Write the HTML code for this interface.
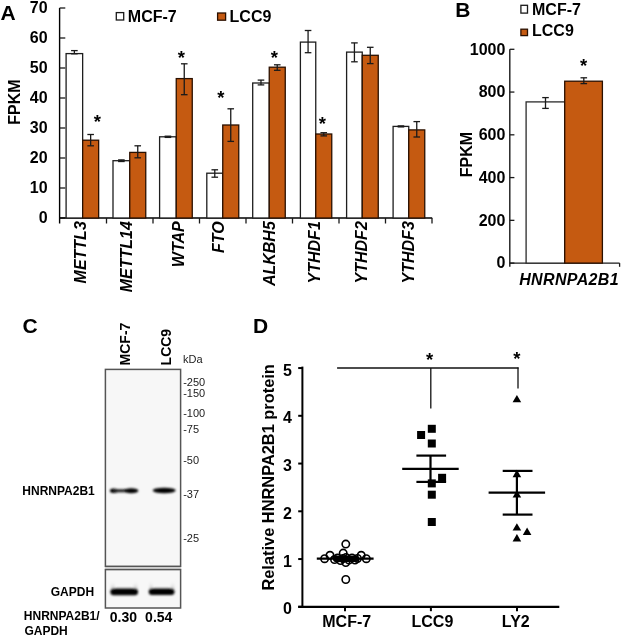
<!DOCTYPE html>
<html><head><meta charset="utf-8"><title>Figure</title>
<style>
html,body{margin:0;padding:0;background:#fff;}
svg{display:block;font-family:'Liberation Sans', Arial, sans-serif;}
</style></head>
<body>
<svg width="622" height="637" viewBox="0 0 622 637">
<defs>
<filter id="blur1" x="-20%" y="-50%" width="140%" height="200%"><feGaussianBlur stdDeviation="0.8"/></filter>
<filter id="blur2" x="-20%" y="-50%" width="140%" height="200%"><feGaussianBlur stdDeviation="1.0"/></filter>
<linearGradient id="smear" x1="0" y1="0" x2="0" y2="1"><stop offset="0" stop-color="#fff" stop-opacity="0"/><stop offset="1" stop-color="#777" stop-opacity="0.6"/></linearGradient>
</defs>
<rect x="0" y="0" width="622" height="637" fill="#fff"/>
<text x="0.6" y="20.3" font-size="21" font-weight="bold" text-anchor="start" fill="#000">A</text>
<line x1="59.6" y1="8" x2="59.6" y2="223.5" stroke="#000" stroke-width="1.4"/>
<line x1="59.6" y1="218.0" x2="65.3" y2="218.0" stroke="#1a1a1a" stroke-width="1.3"/>
<text x="47.6" y="223.4" font-size="16" font-weight="bold" text-anchor="end" fill="#000">0</text>
<line x1="59.6" y1="188.0" x2="65.3" y2="188.0" stroke="#1a1a1a" stroke-width="1.3"/>
<text x="47.6" y="193.4" font-size="16" font-weight="bold" text-anchor="end" fill="#000">10</text>
<line x1="59.6" y1="158.0" x2="65.3" y2="158.0" stroke="#1a1a1a" stroke-width="1.3"/>
<text x="47.6" y="163.4" font-size="16" font-weight="bold" text-anchor="end" fill="#000">20</text>
<line x1="59.6" y1="128.0" x2="65.3" y2="128.0" stroke="#1a1a1a" stroke-width="1.3"/>
<text x="47.6" y="133.4" font-size="16" font-weight="bold" text-anchor="end" fill="#000">30</text>
<line x1="59.6" y1="98.0" x2="65.3" y2="98.0" stroke="#1a1a1a" stroke-width="1.3"/>
<text x="47.6" y="103.4" font-size="16" font-weight="bold" text-anchor="end" fill="#000">40</text>
<line x1="59.6" y1="68.0" x2="65.3" y2="68.0" stroke="#1a1a1a" stroke-width="1.3"/>
<text x="47.6" y="73.4" font-size="16" font-weight="bold" text-anchor="end" fill="#000">50</text>
<line x1="59.6" y1="38.0" x2="65.3" y2="38.0" stroke="#1a1a1a" stroke-width="1.3"/>
<text x="47.6" y="43.4" font-size="16" font-weight="bold" text-anchor="end" fill="#000">60</text>
<line x1="59.6" y1="8.0" x2="65.3" y2="8.0" stroke="#1a1a1a" stroke-width="1.3"/>
<text x="47.6" y="13.4" font-size="16" font-weight="bold" text-anchor="end" fill="#000">70</text>
<line x1="59.6" y1="218.0" x2="432.2" y2="218.0" stroke="#000" stroke-width="1.4"/>
<line x1="106.5" y1="218.0" x2="106.5" y2="223.5" stroke="#1a1a1a" stroke-width="1.3"/>
<line x1="153.0" y1="218.0" x2="153.0" y2="223.5" stroke="#1a1a1a" stroke-width="1.3"/>
<line x1="199.5" y1="218.0" x2="199.5" y2="223.5" stroke="#1a1a1a" stroke-width="1.3"/>
<line x1="246.0" y1="218.0" x2="246.0" y2="223.5" stroke="#1a1a1a" stroke-width="1.3"/>
<line x1="292.5" y1="218.0" x2="292.5" y2="223.5" stroke="#1a1a1a" stroke-width="1.3"/>
<line x1="339.0" y1="218.0" x2="339.0" y2="223.5" stroke="#1a1a1a" stroke-width="1.3"/>
<line x1="385.5" y1="218.0" x2="385.5" y2="223.5" stroke="#1a1a1a" stroke-width="1.3"/>
<line x1="432.0" y1="218.0" x2="432.0" y2="223.5" stroke="#1a1a1a" stroke-width="1.3"/>
<rect x="66.10" y="53.60" width="16.55" height="164.40" fill="#fff" stroke="#1e1e1e" stroke-width="1.3"/>
<rect x="82.65" y="140.20" width="16.00" height="77.80" fill="#C55A11" stroke="#2a1000" stroke-width="1.3"/>
<line x1="74.375" y1="50.6" x2="74.375" y2="53.8" stroke="#1a1a1a" stroke-width="1.3"/>
<line x1="71.075" y1="50.6" x2="77.675" y2="50.6" stroke="#1a1a1a" stroke-width="1.3"/>
<line x1="71.075" y1="53.8" x2="77.675" y2="53.8" stroke="#1a1a1a" stroke-width="1.3"/>
<line x1="90.65" y1="134.5" x2="90.65" y2="145.8" stroke="#1a1a1a" stroke-width="1.3"/>
<line x1="87.35000000000001" y1="134.5" x2="93.95" y2="134.5" stroke="#1a1a1a" stroke-width="1.3"/>
<line x1="87.35000000000001" y1="145.8" x2="93.95" y2="145.8" stroke="#1a1a1a" stroke-width="1.3"/>
<rect x="113.00" y="160.70" width="16.75" height="57.30" fill="#fff" stroke="#1e1e1e" stroke-width="1.3"/>
<rect x="129.75" y="152.40" width="16.00" height="65.60" fill="#C55A11" stroke="#2a1000" stroke-width="1.3"/>
<line x1="121.375" y1="159.9" x2="121.375" y2="161.5" stroke="#1a1a1a" stroke-width="1.3"/>
<line x1="118.075" y1="159.9" x2="124.675" y2="159.9" stroke="#1a1a1a" stroke-width="1.3"/>
<line x1="118.075" y1="161.5" x2="124.675" y2="161.5" stroke="#1a1a1a" stroke-width="1.3"/>
<line x1="137.75" y1="145.8" x2="137.75" y2="157.8" stroke="#1a1a1a" stroke-width="1.3"/>
<line x1="134.45" y1="145.8" x2="141.05" y2="145.8" stroke="#1a1a1a" stroke-width="1.3"/>
<line x1="134.45" y1="157.8" x2="141.05" y2="157.8" stroke="#1a1a1a" stroke-width="1.3"/>
<rect x="159.60" y="136.80" width="16.65" height="81.20" fill="#fff" stroke="#1e1e1e" stroke-width="1.3"/>
<rect x="176.25" y="78.60" width="16.00" height="139.40" fill="#C55A11" stroke="#2a1000" stroke-width="1.3"/>
<line x1="167.925" y1="136.2" x2="167.925" y2="137.4" stroke="#1a1a1a" stroke-width="1.3"/>
<line x1="164.625" y1="136.2" x2="171.22500000000002" y2="136.2" stroke="#1a1a1a" stroke-width="1.3"/>
<line x1="164.625" y1="137.4" x2="171.22500000000002" y2="137.4" stroke="#1a1a1a" stroke-width="1.3"/>
<line x1="184.25" y1="63.8" x2="184.25" y2="94.7" stroke="#1a1a1a" stroke-width="1.3"/>
<line x1="180.95" y1="63.8" x2="187.55" y2="63.8" stroke="#1a1a1a" stroke-width="1.3"/>
<line x1="180.95" y1="94.7" x2="187.55" y2="94.7" stroke="#1a1a1a" stroke-width="1.3"/>
<rect x="206.80" y="173.20" width="15.95" height="44.80" fill="#fff" stroke="#1e1e1e" stroke-width="1.3"/>
<rect x="222.75" y="125.00" width="16.00" height="93.00" fill="#C55A11" stroke="#2a1000" stroke-width="1.3"/>
<line x1="214.775" y1="169.8" x2="214.775" y2="177.2" stroke="#1a1a1a" stroke-width="1.3"/>
<line x1="211.475" y1="169.8" x2="218.07500000000002" y2="169.8" stroke="#1a1a1a" stroke-width="1.3"/>
<line x1="211.475" y1="177.2" x2="218.07500000000002" y2="177.2" stroke="#1a1a1a" stroke-width="1.3"/>
<line x1="230.75" y1="108.8" x2="230.75" y2="141.4" stroke="#1a1a1a" stroke-width="1.3"/>
<line x1="227.45" y1="108.8" x2="234.05" y2="108.8" stroke="#1a1a1a" stroke-width="1.3"/>
<line x1="227.45" y1="141.4" x2="234.05" y2="141.4" stroke="#1a1a1a" stroke-width="1.3"/>
<rect x="252.70" y="83.00" width="16.55" height="135.00" fill="#fff" stroke="#1e1e1e" stroke-width="1.3"/>
<rect x="269.25" y="67.20" width="16.00" height="150.80" fill="#C55A11" stroke="#2a1000" stroke-width="1.3"/>
<line x1="260.975" y1="80.1" x2="260.975" y2="84.9" stroke="#1a1a1a" stroke-width="1.3"/>
<line x1="257.675" y1="80.1" x2="264.27500000000003" y2="80.1" stroke="#1a1a1a" stroke-width="1.3"/>
<line x1="257.675" y1="84.9" x2="264.27500000000003" y2="84.9" stroke="#1a1a1a" stroke-width="1.3"/>
<line x1="277.25" y1="64.8" x2="277.25" y2="70.3" stroke="#1a1a1a" stroke-width="1.3"/>
<line x1="273.95" y1="64.8" x2="280.55" y2="64.8" stroke="#1a1a1a" stroke-width="1.3"/>
<line x1="273.95" y1="70.3" x2="280.55" y2="70.3" stroke="#1a1a1a" stroke-width="1.3"/>
<rect x="300.40" y="42.10" width="15.35" height="175.90" fill="#fff" stroke="#1e1e1e" stroke-width="1.3"/>
<rect x="315.75" y="134.00" width="16.00" height="84.00" fill="#C55A11" stroke="#2a1000" stroke-width="1.3"/>
<line x1="308.075" y1="30.5" x2="308.075" y2="52.7" stroke="#1a1a1a" stroke-width="1.3"/>
<line x1="304.775" y1="30.5" x2="311.375" y2="30.5" stroke="#1a1a1a" stroke-width="1.3"/>
<line x1="304.775" y1="52.7" x2="311.375" y2="52.7" stroke="#1a1a1a" stroke-width="1.3"/>
<line x1="323.75" y1="132.7" x2="323.75" y2="135.9" stroke="#1a1a1a" stroke-width="1.3"/>
<line x1="320.45" y1="132.7" x2="327.05" y2="132.7" stroke="#1a1a1a" stroke-width="1.3"/>
<line x1="320.45" y1="135.9" x2="327.05" y2="135.9" stroke="#1a1a1a" stroke-width="1.3"/>
<rect x="346.60" y="52.10" width="15.65" height="165.90" fill="#fff" stroke="#1e1e1e" stroke-width="1.3"/>
<rect x="362.25" y="55.30" width="16.00" height="162.70" fill="#C55A11" stroke="#2a1000" stroke-width="1.3"/>
<line x1="354.425" y1="42.9" x2="354.425" y2="61.8" stroke="#1a1a1a" stroke-width="1.3"/>
<line x1="351.125" y1="42.9" x2="357.725" y2="42.9" stroke="#1a1a1a" stroke-width="1.3"/>
<line x1="351.125" y1="61.8" x2="357.725" y2="61.8" stroke="#1a1a1a" stroke-width="1.3"/>
<line x1="370.25" y1="47.3" x2="370.25" y2="63.6" stroke="#1a1a1a" stroke-width="1.3"/>
<line x1="366.95" y1="47.3" x2="373.55" y2="47.3" stroke="#1a1a1a" stroke-width="1.3"/>
<line x1="366.95" y1="63.6" x2="373.55" y2="63.6" stroke="#1a1a1a" stroke-width="1.3"/>
<rect x="393.10" y="126.40" width="15.65" height="91.60" fill="#fff" stroke="#1e1e1e" stroke-width="1.3"/>
<rect x="408.75" y="129.90" width="16.00" height="88.10" fill="#C55A11" stroke="#2a1000" stroke-width="1.3"/>
<line x1="400.925" y1="125.9" x2="400.925" y2="126.9" stroke="#1a1a1a" stroke-width="1.3"/>
<line x1="397.625" y1="125.9" x2="404.225" y2="125.9" stroke="#1a1a1a" stroke-width="1.3"/>
<line x1="397.625" y1="126.9" x2="404.225" y2="126.9" stroke="#1a1a1a" stroke-width="1.3"/>
<line x1="416.75" y1="121.6" x2="416.75" y2="137.0" stroke="#1a1a1a" stroke-width="1.3"/>
<line x1="413.45" y1="121.6" x2="420.05" y2="121.6" stroke="#1a1a1a" stroke-width="1.3"/>
<line x1="413.45" y1="137.0" x2="420.05" y2="137.0" stroke="#1a1a1a" stroke-width="1.3"/>
<text x="97.3" y="128.005" font-size="18.5" font-weight="bold" text-anchor="middle" fill="#000">*</text>
<text x="181.35" y="64.305" font-size="18.5" font-weight="bold" text-anchor="middle" fill="#000">*</text>
<text x="220.9" y="104.005" font-size="18.5" font-weight="bold" text-anchor="middle" fill="#000">*</text>
<text x="274.35" y="64.305" font-size="18.5" font-weight="bold" text-anchor="middle" fill="#000">*</text>
<text x="322.45" y="130.005" font-size="18.5" font-weight="bold" text-anchor="middle" fill="#000">*</text>
<rect x="116.30" y="12.60" width="7.40" height="7.40" fill="#fff" stroke="#1a1a1a" stroke-width="1.3"/>
<text x="127.8" y="21.8" font-size="16" font-weight="bold" text-anchor="start" fill="#000">MCF-7</text>
<rect x="217.60" y="13.00" width="8.00" height="7.20" fill="#C55A11" stroke="#2a1000" stroke-width="1.3"/>
<text x="229.6" y="21.8" font-size="16" font-weight="bold" text-anchor="start" fill="#000">LCC9</text>
<text x="19.8" y="102" font-size="16" font-weight="bold" text-anchor="middle" fill="#000" transform="rotate(-90 19.8 102)">FPKM</text>
<text x="85.9" y="221.2" font-size="16" font-weight="bold" font-style="italic" text-anchor="end" fill="#000" transform="rotate(-90 85.9 221.2)">METTL3</text>
<text x="131.7" y="221.2" font-size="16" font-weight="bold" font-style="italic" text-anchor="end" fill="#000" transform="rotate(-90 131.7 221.2)">METTL14</text>
<text x="184.2" y="221.2" font-size="16" font-weight="bold" font-style="italic" text-anchor="end" fill="#000" transform="rotate(-90 184.2 221.2)">WTAP</text>
<text x="224.4" y="221.2" font-size="16" font-weight="bold" font-style="italic" text-anchor="end" fill="#000" transform="rotate(-90 224.4 221.2)">FTO</text>
<text x="274.8" y="221.2" font-size="16" font-weight="bold" font-style="italic" text-anchor="end" fill="#000" transform="rotate(-90 274.8 221.2)">ALKBH5</text>
<text x="320.5" y="221.2" font-size="16" font-weight="bold" font-style="italic" text-anchor="end" fill="#000" transform="rotate(-90 320.5 221.2)">YTHDF1</text>
<text x="367.1" y="221.2" font-size="16" font-weight="bold" font-style="italic" text-anchor="end" fill="#000" transform="rotate(-90 367.1 221.2)">YTHDF2</text>
<text x="413.7" y="221.2" font-size="16" font-weight="bold" font-style="italic" text-anchor="end" fill="#000" transform="rotate(-90 413.7 221.2)">YTHDF3</text>
<text x="455.3" y="16.8" font-size="21" font-weight="bold" text-anchor="start" fill="#000">B</text>
<rect x="520.90" y="5.30" width="6.60" height="7.80" fill="#fff" stroke="#1a1a1a" stroke-width="1.3"/>
<text x="532.0" y="14.5" font-size="16" font-weight="bold" text-anchor="start" fill="#000">MCF-7</text>
<rect x="520.90" y="29.20" width="6.60" height="6.40" fill="#C55A11" stroke="#2a1000" stroke-width="1.3"/>
<text x="532.0" y="36.1" font-size="16" font-weight="bold" text-anchor="start" fill="#000">LCC9</text>
<line x1="509.8" y1="49.3" x2="509.8" y2="266.8" stroke="#1a1a1a" stroke-width="1.4"/>
<line x1="509.8" y1="263.1" x2="514.4" y2="263.1" stroke="#1a1a1a" stroke-width="1.3"/>
<text x="505.4" y="268.3" font-size="16" font-weight="bold" text-anchor="end" fill="#000">0</text>
<line x1="509.8" y1="220.34000000000003" x2="514.4" y2="220.34000000000003" stroke="#1a1a1a" stroke-width="1.3"/>
<text x="505.4" y="225.54000000000002" font-size="16" font-weight="bold" text-anchor="end" fill="#000">200</text>
<line x1="509.8" y1="177.58000000000004" x2="514.4" y2="177.58000000000004" stroke="#1a1a1a" stroke-width="1.3"/>
<text x="505.4" y="182.78000000000003" font-size="16" font-weight="bold" text-anchor="end" fill="#000">400</text>
<line x1="509.8" y1="134.82000000000002" x2="514.4" y2="134.82000000000002" stroke="#1a1a1a" stroke-width="1.3"/>
<text x="505.4" y="140.02" font-size="16" font-weight="bold" text-anchor="end" fill="#000">600</text>
<line x1="509.8" y1="92.06000000000003" x2="514.4" y2="92.06000000000003" stroke="#1a1a1a" stroke-width="1.3"/>
<text x="505.4" y="97.26000000000003" font-size="16" font-weight="bold" text-anchor="end" fill="#000">800</text>
<line x1="509.8" y1="49.30000000000004" x2="514.4" y2="49.30000000000004" stroke="#1a1a1a" stroke-width="1.3"/>
<text x="505.4" y="54.50000000000004" font-size="16" font-weight="bold" text-anchor="end" fill="#000">1000</text>
<line x1="509.8" y1="263.1" x2="619.6" y2="263.1" stroke="#1a1a1a" stroke-width="1.4"/>
<line x1="619.6" y1="263.1" x2="619.6" y2="266.8" stroke="#1a1a1a" stroke-width="1.3"/>
<rect x="526.10" y="101.90" width="38.60" height="161.20" fill="#fff" stroke="#2a2a2a" stroke-width="1.3"/>
<rect x="564.70" y="81.20" width="37.70" height="181.90" fill="#C55A11" stroke="#2a1000" stroke-width="1.3"/>
<line x1="545.5" y1="97.6" x2="545.5" y2="108.4" stroke="#1a1a1a" stroke-width="1.3"/>
<line x1="542.2" y1="97.6" x2="548.8" y2="97.6" stroke="#1a1a1a" stroke-width="1.3"/>
<line x1="542.2" y1="108.4" x2="548.8" y2="108.4" stroke="#1a1a1a" stroke-width="1.3"/>
<line x1="583.8" y1="77.8" x2="583.8" y2="83.6" stroke="#1a1a1a" stroke-width="1.3"/>
<line x1="580.5" y1="77.8" x2="587.0999999999999" y2="77.8" stroke="#1a1a1a" stroke-width="1.3"/>
<line x1="580.5" y1="83.6" x2="587.0999999999999" y2="83.6" stroke="#1a1a1a" stroke-width="1.3"/>
<text x="583.55" y="72.10499999999999" font-size="18.5" font-weight="bold" text-anchor="middle" fill="#000">*</text>
<text x="472.0" y="154.5" font-size="16" font-weight="bold" text-anchor="middle" fill="#000" transform="rotate(-90 472.0 154.5)">FPKM</text>
<text x="569.1" y="284.7" font-size="16" font-weight="bold" font-style="italic" text-anchor="middle" fill="#000" letter-spacing="0.35">HNRNPA2B1</text>
<text x="22.6" y="332.9" font-size="21" font-weight="bold" text-anchor="start" fill="#000">C</text>
<text x="130.3" y="365.4" font-size="14" font-weight="bold" text-anchor="start" fill="#000" transform="rotate(-90 130.3 365.4)">MCF-7</text>
<text x="171.5" y="365.4" font-size="14" font-weight="bold" text-anchor="start" fill="#000" transform="rotate(-90 171.5 365.4)">LCC9</text>
<text x="183.0" y="362.6" font-size="11" font-weight="normal" text-anchor="start" fill="#222">kDa</text>
<rect x="104.8" y="566" width="76.4" height="4" fill="#d4d4d4"/>
<rect x="105.4" y="369.4" width="75.2" height="196.9" fill="#f7f7f7" stroke="#555" stroke-width="1.5"/>
<rect x="105.4" y="569.6" width="75.2" height="38.4" fill="#f7f7f7" stroke="#555" stroke-width="1.5"/>
<g filter="url(#blur1)">
<ellipse cx="113.8" cy="490.7" rx="3.9" ry="2.2" fill="#000"/>
<rect x="113" y="489.3" width="14" height="2.9" rx="1.4" fill="#1a1a1a"/>
<ellipse cx="131.2" cy="490.7" rx="7.2" ry="2.5" fill="#000"/>
<ellipse cx="164.2" cy="490.5" rx="11.5" ry="2.7" fill="#000"/>
</g>
<g filter="url(#blur2)">
<path d="M110.8,580 L114,580 L115,588 L133,588 L134.5,580 L137.6,580 L137.6,592 L110.8,592 Z" fill="url(#smear)"/>
<path d="M149.2,580 L152,580 L153,588 L170.5,588 L171.5,580 L174.4,580 L174.4,592 L149.2,592 Z" fill="url(#smear)"/>
<rect x="110.4" y="588.6" width="27.6" height="6.6" rx="3.2" fill="#000"/>
<rect x="148.7" y="588.6" width="25.8" height="6.4" rx="3.2" fill="#000"/>
</g>
<text x="183.2" y="385.65" font-size="11" font-weight="normal" text-anchor="start" fill="#222">-250</text>
<text x="183.2" y="397.4" font-size="11" font-weight="normal" text-anchor="start" fill="#222">-150</text>
<text x="183.2" y="417.09999999999997" font-size="11" font-weight="normal" text-anchor="start" fill="#222">-100</text>
<text x="183.2" y="432.79999999999995" font-size="11" font-weight="normal" text-anchor="start" fill="#222">-75</text>
<text x="183.2" y="463.79999999999995" font-size="11" font-weight="normal" text-anchor="start" fill="#222">-50</text>
<text x="183.2" y="497.7" font-size="11" font-weight="normal" text-anchor="start" fill="#222">-37</text>
<text x="183.2" y="541.6" font-size="11" font-weight="normal" text-anchor="start" fill="#222">-25</text>
<text x="94.8" y="494.9" font-size="12" font-weight="bold" text-anchor="end" fill="#000">HNRNPA2B1</text>
<text x="94.1" y="595.5" font-size="12" font-weight="bold" text-anchor="end" fill="#000">GAPDH</text>
<text x="23.8" y="620.4" font-size="12" font-weight="bold" text-anchor="start" fill="#000">HNRNPA2B1/</text>
<text x="24.4" y="634.9" font-size="12" font-weight="bold" text-anchor="start" fill="#000">GAPDH</text>
<text x="109.8" y="621.5" font-size="14" font-weight="bold" text-anchor="start" fill="#000">0.30</text>
<text x="145.1" y="621.5" font-size="14" font-weight="bold" text-anchor="start" fill="#000">0.54</text>
<text x="253.0" y="333.1" font-size="21" font-weight="bold" text-anchor="start" fill="#000">D</text>
<line x1="302.4" y1="366.6" x2="302.4" y2="606.8" stroke="#000" stroke-width="2.0"/>
<line x1="298.2" y1="606.8" x2="302.4" y2="606.8" stroke="#000" stroke-width="2.0"/>
<text x="292.0" y="614.4" font-size="16" font-weight="bold" text-anchor="end" fill="#000">0</text>
<line x1="298.2" y1="559.05" x2="302.4" y2="559.05" stroke="#000" stroke-width="2.0"/>
<text x="292.0" y="566.65" font-size="16" font-weight="bold" text-anchor="end" fill="#000">1</text>
<line x1="298.2" y1="511.29999999999995" x2="302.4" y2="511.29999999999995" stroke="#000" stroke-width="2.0"/>
<text x="292.0" y="518.9" font-size="16" font-weight="bold" text-anchor="end" fill="#000">2</text>
<line x1="298.2" y1="463.54999999999995" x2="302.4" y2="463.54999999999995" stroke="#000" stroke-width="2.0"/>
<text x="292.0" y="471.15" font-size="16" font-weight="bold" text-anchor="end" fill="#000">3</text>
<line x1="298.2" y1="415.79999999999995" x2="302.4" y2="415.79999999999995" stroke="#000" stroke-width="2.0"/>
<text x="292.0" y="423.4" font-size="16" font-weight="bold" text-anchor="end" fill="#000">4</text>
<line x1="298.2" y1="368.04999999999995" x2="302.4" y2="368.04999999999995" stroke="#000" stroke-width="2.0"/>
<text x="292.0" y="375.65" font-size="16" font-weight="bold" text-anchor="end" fill="#000">5</text>
<line x1="298.2" y1="606.8" x2="559.3" y2="606.8" stroke="#000" stroke-width="2.2"/>
<line x1="345.0" y1="606.8" x2="345.0" y2="611.2" stroke="#000" stroke-width="2.0"/>
<line x1="430.9" y1="606.8" x2="430.9" y2="611.2" stroke="#000" stroke-width="2.0"/>
<line x1="517.0" y1="606.8" x2="517.0" y2="611.2" stroke="#000" stroke-width="2.0"/>
<text x="274.1" y="477.35" font-size="16.4" font-weight="bold" text-anchor="middle" fill="#000" transform="rotate(-90 274.1 477.35)">Relative HNRNPA2B1 protein</text>
<text x="346.7" y="627.2" font-size="16" font-weight="bold" text-anchor="middle" fill="#000">MCF-7</text>
<text x="432.4" y="627.2" font-size="16" font-weight="bold" text-anchor="middle" fill="#000">LCC9</text>
<text x="515.8" y="627.2" font-size="16" font-weight="bold" text-anchor="middle" fill="#000">LY2</text>
<line x1="337.1" y1="368.0" x2="518.6" y2="368.0" stroke="#111" stroke-width="1.3"/>
<line x1="430.8" y1="368.0" x2="430.8" y2="408.5" stroke="#111" stroke-width="1.3"/>
<line x1="518.0" y1="367.4" x2="518.0" y2="388.6" stroke="#111" stroke-width="1.3"/>
<text x="429.5" y="366.40500000000003" font-size="18.5" font-weight="bold" text-anchor="middle" fill="#000">*</text>
<text x="516.95" y="365.255" font-size="18.5" font-weight="bold" text-anchor="middle" fill="#000">*</text>
<circle cx="334.5" cy="559.5" r="3.7" fill="none" stroke="#000" stroke-width="1.6"/>
<circle cx="337.5" cy="558" r="3.7" fill="none" stroke="#000" stroke-width="1.6"/>
<circle cx="340.5" cy="560.5" r="3.7" fill="none" stroke="#000" stroke-width="1.6"/>
<circle cx="343" cy="558.5" r="3.7" fill="none" stroke="#000" stroke-width="1.6"/>
<circle cx="349" cy="560" r="3.7" fill="none" stroke="#000" stroke-width="1.6"/>
<circle cx="352" cy="558" r="3.7" fill="none" stroke="#000" stroke-width="1.6"/>
<circle cx="355" cy="560" r="3.7" fill="none" stroke="#000" stroke-width="1.6"/>
<circle cx="357.5" cy="558.5" r="3.7" fill="none" stroke="#000" stroke-width="1.6"/>
<circle cx="346" cy="557.5" r="3.7" fill="none" stroke="#000" stroke-width="1.6"/>
<rect x="333" y="555.6" width="26" height="6.4" rx="3" fill="#000"/>
<circle cx="324.6" cy="558.7" r="3.7" fill="none" stroke="#000" stroke-width="1.6"/>
<circle cx="330" cy="555.3" r="3.7" fill="none" stroke="#000" stroke-width="1.6"/>
<circle cx="361.2" cy="555.3" r="3.7" fill="none" stroke="#000" stroke-width="1.6"/>
<circle cx="366.3" cy="558.7" r="3.7" fill="none" stroke="#000" stroke-width="1.6"/>
<circle cx="345.8" cy="562.6" r="3.7" fill="none" stroke="#000" stroke-width="1.6"/>
<circle cx="343.2" cy="553.1" r="3.7" fill="none" stroke="#000" stroke-width="1.6"/>
<circle cx="345.8" cy="544.1" r="3.7" fill="#fff" stroke="#000" stroke-width="1.6"/>
<circle cx="345.8" cy="579.5" r="3.7" fill="#fff" stroke="#000" stroke-width="1.6"/>
<line x1="316.8" y1="558.7" x2="373.6" y2="558.7" stroke="#000" stroke-width="2.2"/>
<rect x="427.80" y="424.80" width="8.00" height="8.00" fill="#000"/>
<rect x="417.10" y="431.00" width="8.00" height="8.00" fill="#000"/>
<rect x="427.80" y="439.50" width="8.00" height="8.00" fill="#000"/>
<rect x="438.10" y="473.80" width="8.00" height="8.00" fill="#000"/>
<rect x="427.80" y="479.40" width="8.00" height="8.00" fill="#000"/>
<rect x="427.80" y="490.70" width="8.00" height="8.00" fill="#000"/>
<rect x="427.80" y="518.00" width="8.00" height="8.00" fill="#000"/>
<line x1="402.2" y1="468.9" x2="458.7" y2="468.9" stroke="#000" stroke-width="2.2"/>
<line x1="416.4" y1="455.6" x2="446.1" y2="455.6" stroke="#000" stroke-width="2.2"/>
<line x1="416.4" y1="481.9" x2="446.1" y2="481.9" stroke="#000" stroke-width="2.2"/>
<line x1="430.5" y1="455.6" x2="430.5" y2="481.9" stroke="#000" stroke-width="2.2"/>
<polygon points="512.60,402.30 521.20,402.30 516.90,394.90" fill="#000"/>
<polygon points="512.60,477.20 521.20,477.20 516.90,469.80" fill="#000"/>
<polygon points="512.60,497.60 521.20,497.60 516.90,490.20" fill="#000"/>
<polygon points="512.60,530.60 521.20,530.60 516.90,523.20" fill="#000"/>
<polygon points="522.80,535.00 531.40,535.00 527.10,527.60" fill="#000"/>
<polygon points="512.60,541.50 521.20,541.50 516.90,534.10" fill="#000"/>
<line x1="488.6" y1="492.7" x2="545.1" y2="492.7" stroke="#000" stroke-width="2.2"/>
<line x1="502.7" y1="470.9" x2="532.5" y2="470.9" stroke="#000" stroke-width="2.2"/>
<line x1="502.7" y1="514.6" x2="532.5" y2="514.6" stroke="#000" stroke-width="2.2"/>
<line x1="516.9" y1="470.9" x2="516.9" y2="514.6" stroke="#000" stroke-width="2.2"/>
</svg>
</body></html>
